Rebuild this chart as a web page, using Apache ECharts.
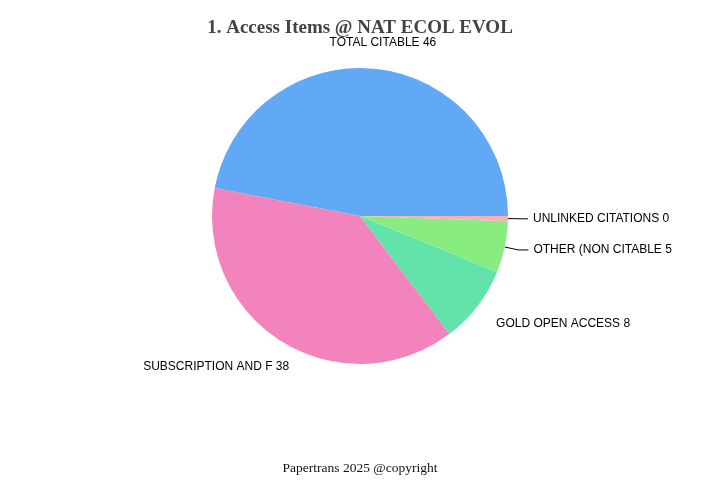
<!DOCTYPE html>
<html>
<head>
<meta charset="utf-8">
<script src="https://cdn.jsdelivr.net/npm/echarts@6/dist/echarts.min.js"></script>
<style>
html,body{margin:0;padding:0;background:#fff;}
#chart{width:720px;height:480px;}
</style>
</head>
<body>
<div id="chart"></div>
<script>
const titleText = '1. Access Items @ NAT ECOL EVOL';
const footerText = 'Papertrans 2025 @copyright';
const categories = ['TOTAL CITABLE', 'SUBSCRIPTION AND F', 'GOLD OPEN ACCESS', 'OTHER (NON CITABLE', 'UNLINKED CITATIONS'];
const values = [46.7, 38.15, 8.45, 5.58, 0.55];
const colors = ['#62A9F5', '#F383BD', '#62E3AA', '#89EC80', '#F8B2B6'];
const showLine = [false, false, false, true, true];
const lineLen = [26, 26, 26, 14, 13];
const lineLen2 = [0, 0, 0, 10, 7];
const labelShiftX = [-52, 26, -7, 0, 0];
const labelShiftY = [0, 3, 2, 1, 0];

const chart = echarts.init(document.getElementById('chart'), null, {renderer: 'canvas'});
const data = categories.map((c, i) => ({
  name: c,
  value: values[i],
  itemStyle: {color: colors[i]},
  labelLine: {show: showLine[i], length: lineLen[i], length2: lineLen2[i]}
}));
chart.setOption({
  backgroundColor: '#ffffff',
  animation: false,
  title: [{
    text: titleText,
    left: 'center',
    top: 14,
    textStyle: {fontFamily: 'Liberation Serif', fontWeight: 'bold', fontSize: 19, color: '#444444'}
  }, {
    text: footerText,
    left: 'center',
    top: 456,
    textStyle: {fontFamily: 'Liberation Serif', fontWeight: 'normal', fontSize: 13.5, color: '#111111'}
  }],
  series: [{
    type: 'pie',
    center: [360, 216],
    radius: 148,
    startAngle: 0,
    clockwise: false,
    avoidLabelOverlap: false,
    data: data,
    label: {
      show: true,
      position: 'outside',
      formatter: p => p.name + ' ' + Math.floor(p.value),
      fontFamily: 'Liberation Sans',
      fontSize: 12,
      color: '#000000'
    },
    labelLayout: p => (showLine[p.dataIndex] ? {} : {dx: labelShiftX[p.dataIndex], dy: labelShiftY[p.dataIndex]}),
    labelLine: {lineStyle: {color: '#000000', width: 1}},
    emphasis: {disabled: true}
  }]
});
</script>
</body>
</html>
